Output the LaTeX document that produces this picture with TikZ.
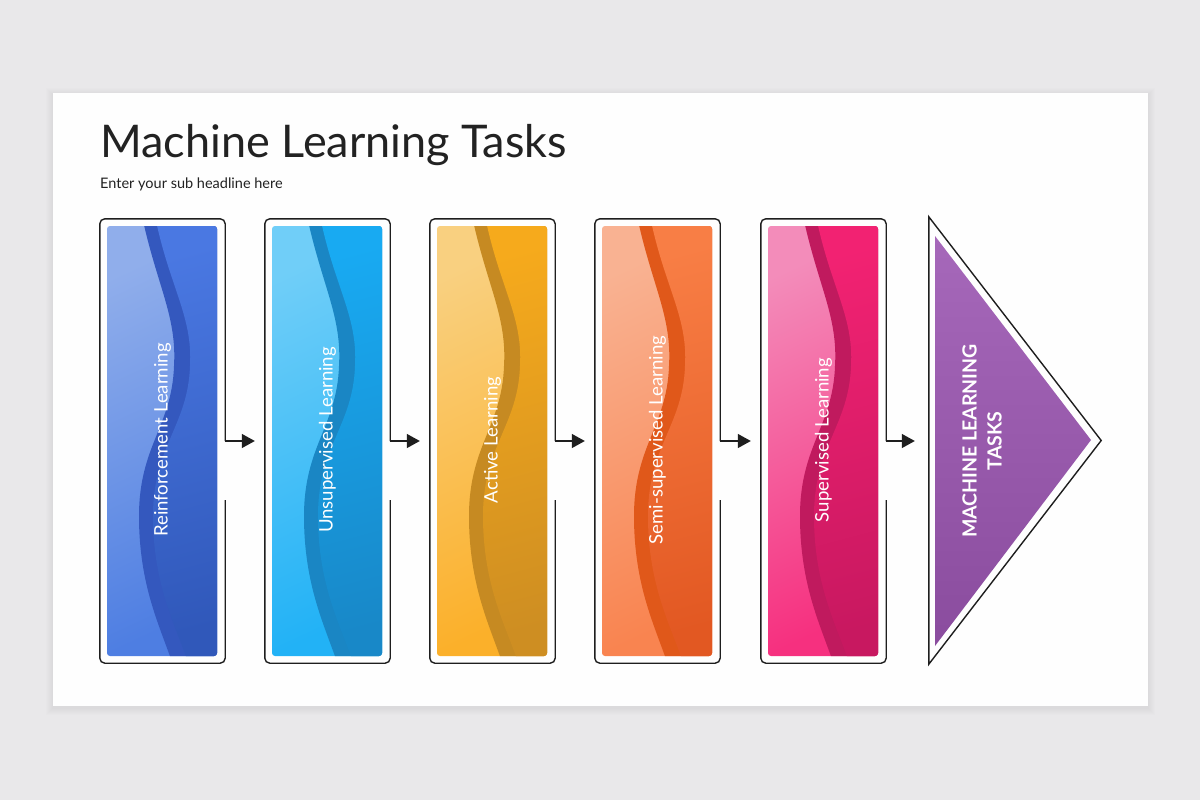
\documentclass[tikz,border=0pt]{standalone}
\usepackage{fontspec}
\setmainfont{Lato}
\usetikzlibrary{arrows.meta,calc}
\definecolor{bgc}{HTML}{E9E8EA}
\definecolor{titlec}{HTML}{222222}
\definecolor{framec}{HTML}{1E1E1E}
% blue
\definecolor{laA}{HTML}{90AEEB}\definecolor{lbA}{HTML}{4E7EE2}
\definecolor{raA}{HTML}{4A78E2}\definecolor{rbA}{HTML}{3058BA}\definecolor{stA}{HTML}{3458BE}
% cyan
\definecolor{laB}{HTML}{70CEF8}\definecolor{lbB}{HTML}{22B2F6}
\definecolor{raB}{HTML}{18AAF2}\definecolor{rbB}{HTML}{1888C8}\definecolor{stB}{HTML}{1A86C4}
% yellow
\definecolor{laC}{HTML}{F9D080}\definecolor{lbC}{HTML}{FBB02A}
\definecolor{raC}{HTML}{F6AA1C}\definecolor{rbC}{HTML}{CE8E22}\definecolor{stC}{HTML}{C68A22}
% orange
\definecolor{laD}{HTML}{F9B292}\definecolor{lbD}{HTML}{F98450}
\definecolor{raD}{HTML}{F87E45}\definecolor{rbD}{HTML}{E25822}\definecolor{stD}{HTML}{E0581A}
% pink
\definecolor{laE}{HTML}{F38CBA}\definecolor{lbE}{HTML}{F6307F}
\definecolor{raE}{HTML}{F22272}\definecolor{rbE}{HTML}{C81860}\definecolor{stE}{HTML}{C01A5E}
% purple
\definecolor{trA}{HTML}{A668BA}\definecolor{trB}{HTML}{8A4C9E}
\tikzset{
  framestyle/.style={draw=framec, line width=1.4pt, rounded corners=5pt},
  flowarrow/.style={draw=framec, line width=1.4pt, -{Triangle[length=13pt,width=14pt]}},
  boxtext/.style={rotate=90, text=white, font=\fontsize{18.6}{20}\selectfont, inner sep=0pt},
  framenode/.style={inner sep=0pt, minimum width=125pt, minimum height=444pt}
}
\begin{document}
\begin{tikzpicture}[x=1pt,y=-1pt]
\useasboundingbox (0,0) rectangle (1200,800);
\fill[bgc] (0,0) rectangle (1200,800);
% card shadow
\foreach \k in {1,...,7}
  \fill[black,opacity=0.006] (53-\k,93-\k+2) rectangle (1148+\k,706+\k+2);
\fill[white!99!gray] (53,93) rectangle (1148,706);

\node[anchor=base west, inner sep=0pt, text=titlec, font=\fontsize{45}{50}\selectfont] (title) at (100,157) {Machine Learning Tasks};
\node[anchor=base west, inner sep=0pt, text=titlec, font=\fontsize{14.5}{16}\selectfont] (sub) at (100,188) {Enter your sub headline here};

\foreach \i/\fx/\la/\lb/\ra/\rb/\st/\txt in {
  1/100/laA/lbA/raA/rbA/stA/Reinforcement Learning,
  2/265/laB/lbB/raB/rbB/stB/Unsupervised Learning,
  3/430/laC/lbC/raC/rbC/stC/Active Learning,
  4/595/laD/lbD/raD/rbD/stD/Semi-supervised Learning,
  5/761/laE/lbE/raE/rbE/stE/Supervised Learning}{
  \begin{scope}[shift={(\fx,0)}]
    \begin{scope}
      \clip[rounded corners=3pt] (7,226) rectangle (117,656);
      \shade[top color=\la, bottom color=\lb, shading angle=25] (0,220) rectangle (125,662);
      \fill[\st] (42,216) .. controls (57,286) and (77,316) .. (74,366)
          .. controls (72,426) and (39,446) .. (39,516)
          .. controls (39,586) and (60,626) .. (73,665)
          -- (130,665) -- (130,216) -- cycle;
      \shade[top color=\ra, bottom color=\rb, shading angle=15] (55,216) .. controls (69,286) and (93,316) .. (90,366)
          .. controls (88,426) and (53,446) .. (53,516)
          .. controls (53,586) and (76,626) .. (89,665)
          -- (130,665) -- (130,216) -- cycle;
    \end{scope}
    \node[framenode] (f\i) at (62.5,441) {};
    \draw[framestyle] (f\i.east) -- (f\i.north east) -- (f\i.north west) -- (f\i.south west) -- (f\i.south east) -- ($(f\i.east)+(0,59)$);
    \node[boxtext] (t\i) at (62.5,440) {\txt};
  \end{scope}
}

% final triangle
\node[inner sep=0pt, minimum width=172pt, minimum height=447pt] (tri) at (1015,440.5) {};
\draw[draw=framec, line width=1.4pt, line join=miter] (tri.north west) -- (tri.east) -- (tri.south west) -- cycle;
\shade[top color=trA, bottom color=trB] (935,236) -- (1091,440) -- (935,646) -- cycle;
\node[rotate=90, text=white, align=center, inner sep=0pt, font=\bfseries\fontsize{19.5}{25}\selectfont] (tt) at (982,441) {MACHINE LEARNING\\TASKS};

% connectors
\foreach \a/\b in {f1/f2,f2/f3,f3/f4,f4/f5}
  \draw[flowarrow, shorten >=10pt] (\a.east) -- (\a.east -| \b.west);
\draw[flowarrow, shorten >=14pt] (f5.east) -- (f5.east -| tri.west);
\end{tikzpicture}
\end{document}
